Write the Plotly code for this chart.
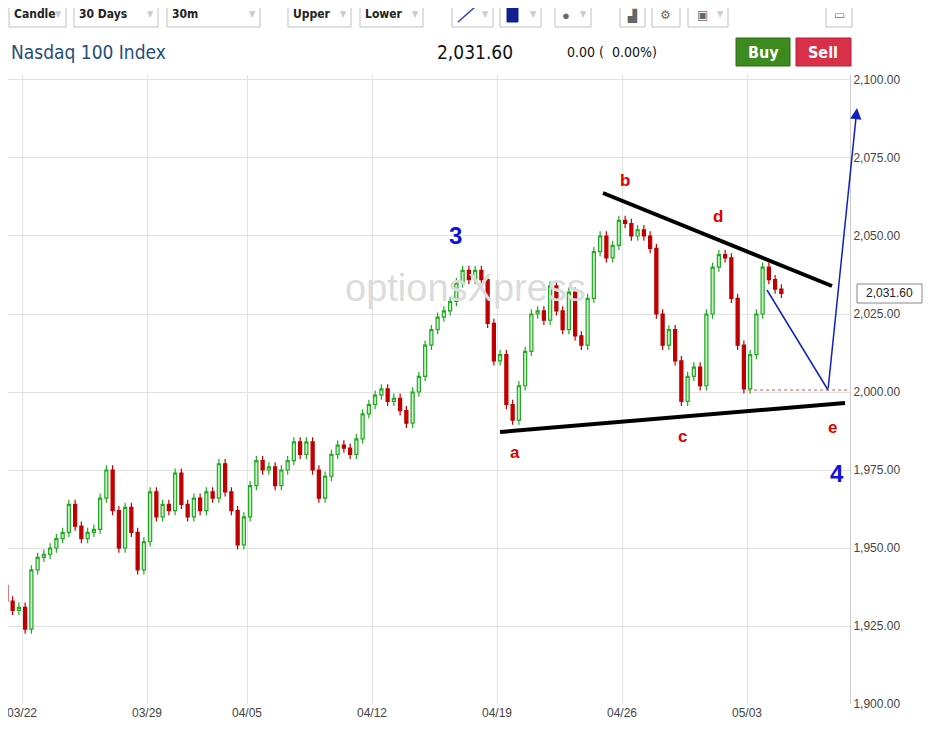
import plotly.graph_objects as go

# ---- data ----
day_labels = ["03/19","03/22","03/23","03/24","03/25","03/26","03/29","03/30","03/31","04/01",
              "04/05","04/06","04/07","04/08","04/09","04/12","04/13","04/14","04/15","04/16",
              "04/19","04/20","04/21","04/22","04/23","04/26","04/27","04/28","04/29","04/30",
              "05/03","05/04"]
closes_by_day = [
    [1938,1933,1930,1931],
    [1924,1943,1947,1948],
    [1950,1953,1955,1964],
    [1957,1953,1955,1956],
    [1966,1975,1962,1950],
    [1963,1955,1943,1952],
    [1968,1960,1964,1962],
    [1974,1964,1960,1966],
    [1962,1968,1966,1977],
    [1968,1962,1951,1960],
    [1970,1978,1975,1976],
    [1970,1975,1978,1984],
    [1980,1984,1975,1966],
    [1973,1980,1983,1982],
    [1980,1985,1993,1996],
    [1999,2001,1997,1998],
    [1994,1990,2000,2005],
    [2015,2020,2024,2026],
    [2029,2035,2039,2036],
    [2039,2036,2022,2010],
    [2012,1996,1991,2002],
    [2013,2025,2026,2023],
    [2034,2026,2020,2032],
    [2018,2015,2030,2045],
    [2050,2043,2047,2055],
    [2054,2050,2052,2050],
    [2046,2025,2015,2020],
    [2010,1997,2005,2008],
    [2002,2025,2040,2044],
    [2043,2030,2015,2001],
    [2012,2025,2040,2036],
    [2033,2031.6],
]
first_open = 1942
tick_days = ["03/22","03/29","04/05","04/12","04/19","04/26","05/03"]
y_ticks = [1900,1925,1950,1975,2000,2025,2050,2075,2100]

# ---- build candles ----
xs, o, h, l, c = [], [], [], [], []
prev = first_open
for d, closes in enumerate(closes_by_day):
    for k, cl in enumerate(closes):
        xs.append(d - 1 + (k + 0.5) / 4)
        o.append(prev); c.append(cl)
        h.append(max(prev, cl) + 1.5); l.append(min(prev, cl) - 1.5)
        prev = cl

fig = go.Figure(go.Candlestick(
    x=xs, open=o, high=h, low=l, close=c,
    increasing=dict(line=dict(color="#22aa22", width=1.2), fillcolor="#c8f0c8"),
    decreasing=dict(line=dict(color="#c00000", width=1.2), fillcolor="#c00000"),
    whiskerwidth=0, showlegend=False, hoverinfo="skip"))

tickvals = [day_labels.index(t) - 1 for t in tick_days]

# page has 8px body offset: figure coords = screen - 8
fig.update_layout(
    width=927, height=731, margin=dict(l=0, r=85, t=67, b=35),
    paper_bgcolor="white", plot_bgcolor="white",
    font=dict(family="Liberation Sans", color="#333"),
    xaxis=dict(range=[-0.56, 33.12], tickvals=tickvals, ticktext=tick_days,
               ticklabeloverflow="allow",
               showgrid=True, gridcolor="#e2e2e2", rangeslider=dict(visible=False),
               zeroline=False, showline=False, ticks="", tickfont=dict(size=12, color="#444")),
    yaxis=dict(range=[1900, 2101.6], side="right", tickvals=y_ticks,
               ticktext=[f"{v:,.2f}" for v in y_ticks], showgrid=True, gridcolor="#e2e2e2",
               zeroline=False, showline=True, linecolor="#ccc", ticks="", ticklen=0,
               tickfont=dict(size=12, color="#444")),
)

def P(px, py):
    return (px - 8) / 842.0, (704 - py) / 629.0

shapes, anns = [], []
COND = "DejaVu Sans Condensed, Liberation Sans Narrow, Liberation Sans"

def line(x0, y0, x1, y1, color, width, dash="solid"):
    a, b = P(x0, y0); cc, d = P(x1, y1)
    shapes.append(dict(type="line", xref="paper", yref="paper", x0=a, y0=b, x1=cc, y1=d,
                       line=dict(color=color, width=width, dash=dash)))

def rect(x0, y0, x1, y1, fill, border="#bbb"):
    a, b = P(x0, y0); cc, d = P(x1, y1)
    shapes.append(dict(type="rect", xref="paper", yref="paper", x0=a, y0=b, x1=cc, y1=d,
                       fillcolor=fill, line=dict(color=border, width=1)))

def text(px, py, s, size, color, bold=False, anchor="center", family=COND):
    a, b = P(px, py)
    anns.append(dict(xref="paper", yref="paper", x=a, y=b, text=f"<b>{s}</b>" if bold else s,
                     showarrow=False, xanchor=anchor, yanchor="middle",
                     font=dict(size=size, color=color, family=family)))

# watermark
text(465, 288, "optionsXpress", 38, "#dcdcdc", family="Liberation Sans")

# triangle lines
line(603, 193, 832, 286, "black", 4)
line(500, 432, 845, 403, "black", 4)
line(748, 390, 850, 390, "#e05050", 1, "dot")
line(767, 290, 828, 390, "#1020c0", 1.5)
a, b = P(857, 108)
anns.append(dict(xref="paper", yref="paper", x=a, y=b, ax=828 - 857, ay=390 - 108,
                 axref="pixel", ayref="pixel",
                 text="", showarrow=True, arrowhead=2, arrowsize=1.5, arrowwidth=1.5, arrowcolor="#1020c0"))

# wave labels
text(455, 235, "3", 24, "#1010e0", True, family="Liberation Sans")
text(837, 473, "4", 24, "#1010e0", True, family="Liberation Sans")
for s, x, y in [("b", 625, 180), ("d", 718, 216), ("a", 515, 453), ("c", 682, 436), ("e", 832, 427)]:
    text(x, y, s, 17, "#e00000", True, family="Liberation Sans")

# current price label
rect(857, 284, 922, 303, "white", "#888")
text(889, 293, "2,031.60", 12, "#222", family="Liberation Sans")

# toolbar
for s, x0, x1 in [("Candle", 9, 66), ("30 Days", 74, 158), ("30m", 167, 260), ("Upper", 288, 351),
                  ("Lower", 360, 423), ("", 452, 493), ("", 500, 541), ("", 555, 591),
                  ("", 620, 645), ("", 652, 680), ("", 688, 728), ("", 826, 852)]:
    rect(x0, 2, x1, 27, "white", "#c0c0c0")
    if s:
        text(x0 + 3, 14, s, 12, "#222", True, anchor="left")
    if x1 - x0 > 30:
        text(x1 - 8, 14, "▼", 9, "#ccc")
line(458, 22, 475, 7, "#3040c0", 1.5)
rect(507, 7, 518, 22, "#102090", "#102090")
text(566, 15, "●", 13, "#666", family="Liberation Sans")
text(632, 15, "▟", 12, "#666", family="DejaVu Sans")
text(665, 15, "⚙", 12, "#666", family="DejaVu Sans")
text(702, 15, "▣", 12, "#666", family="DejaVu Sans")
text(839, 15, "▭", 12, "#777", family="DejaVu Sans")

# title row
text(9, 52, "Nasdaq 100 Index", 19, "#1f4e79", anchor="left")
text(475, 52, "2,031.60", 19, "#111")
text(612, 52, "0.00 (  0.00%)", 14, "#111")
rect(736, 38, 790, 66, "#3d8a1e", "#2e6a16")
text(763, 52, "Buy", 16, "white", True)
rect(796, 38, 851, 66, "#d9304a", "#b02038")
text(823, 52, "Sell", 16, "white", True)

fig.update_layout(shapes=shapes, annotations=anns)
fig.write_html("out.html")
